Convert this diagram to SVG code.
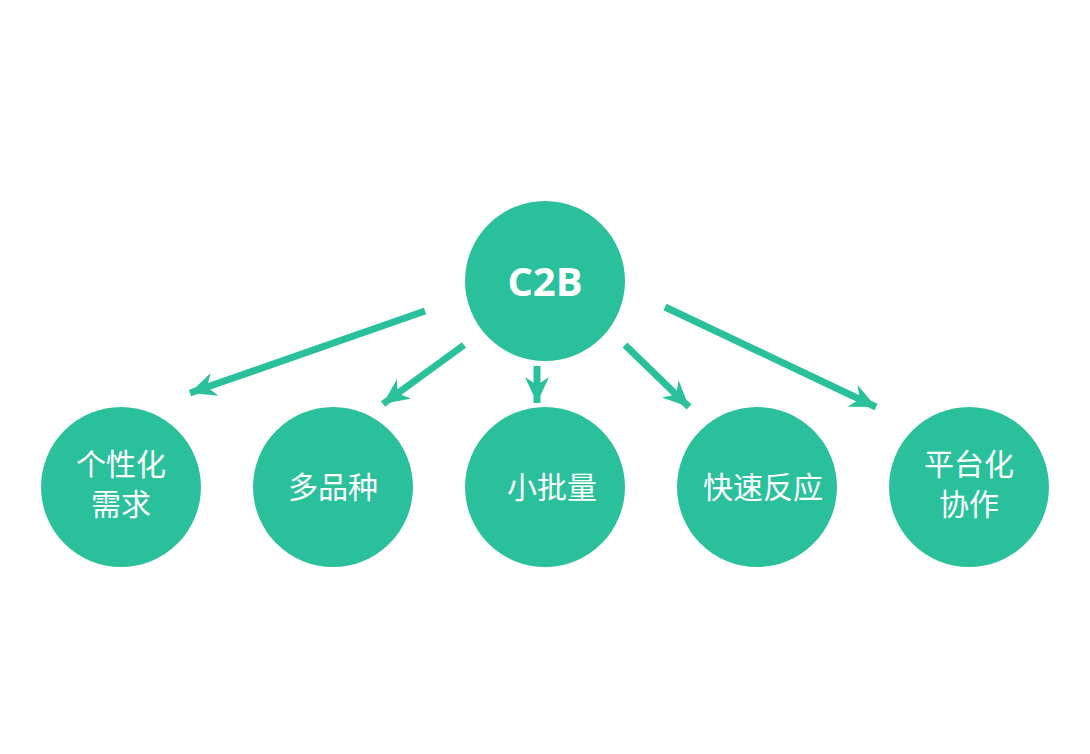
<svg xmlns="http://www.w3.org/2000/svg" width="1090" height="754" viewBox="0 0 1090 754">
<style>
.n{fill:#2bc09c}
.t{fill:#fff;font-family:"Noto Sans CJK SC","Liberation Sans",sans-serif;font-size:30px;text-anchor:middle}
.e{stroke:#2bc09c;stroke-width:7;fill:none;marker-end:url(#a)}
</style>
<defs>
<marker id="a" markerUnits="userSpaceOnUse" markerWidth="30" markerHeight="30" viewBox="-26 -13 30 26" refX="0" refY="0" orient="auto">
<path d="M0,0 L-26,-12 L-18,0 L-26,12 Z" fill="#2bc09c"/>
</marker>
</defs>
<rect width="1090" height="754" fill="#fff"/>
<g id="edges">
<line class="e" x1="425" y1="311" x2="190" y2="393"/>
<line class="e" x1="464" y1="345" x2="383" y2="404"/>
<line class="e" x1="537" y1="366" x2="537" y2="403"/>
<line class="e" x1="625" y1="345" x2="689" y2="407"/>
<line class="e" x1="665" y1="307" x2="876" y2="407"/>
</g>
<g id="c2b"><circle class="n" cx="545" cy="281" r="80"/><text class="t" x="545" y="296" style="font-family:'Open Sans','Liberation Sans',sans-serif;font-weight:bold;font-size:40px">C2B</text></g>
<g id="n1"><circle class="n" cx="121" cy="487" r="80"/><text class="t" x="121" y="475">个性化</text><text class="t" x="121" y="515">需求</text></g>
<g id="n2"><circle class="n" cx="333" cy="487" r="80"/><text class="t" x="333" y="498">多品种</text></g>
<g id="n3"><circle class="n" cx="545" cy="487" r="80"/><text class="t" x="552" y="498">小批量</text></g>
<g id="n4"><circle class="n" cx="757" cy="487" r="80"/><text class="t" x="763" y="498">快速反应</text></g>
<g id="n5"><circle class="n" cx="969" cy="487" r="80"/><text class="t" x="969" y="475">平台化</text><text class="t" x="969" y="515">协作</text></g>
</svg>
